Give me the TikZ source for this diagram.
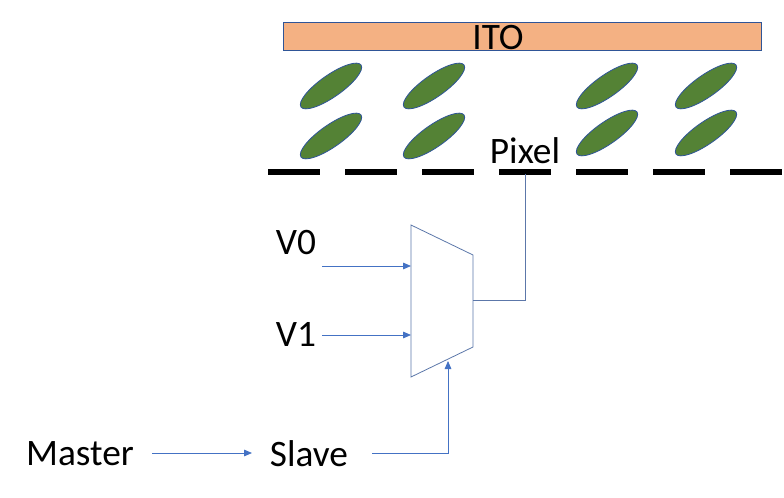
\documentclass[tikz,border=0pt]{standalone}
\usepackage{fontspec}
\setmainfont{Carlito}
\usetikzlibrary{shapes.geometric,arrows.meta}
\definecolor{ito}{HTML}{F4B183}
\definecolor{lc}{HTML}{548235}
\definecolor{bl}{HTML}{4472C4}
\definecolor{dbl}{HTML}{2F5597}
\begin{document}
\begin{tikzpicture}[x=0.75pt,y=-0.75pt,
  lbl/.style={font=\fontsize{28}{32}\selectfont},
  lcell/.style={ellipse,draw=dbl,fill=lc,minimum width=55pt,minimum height=16.5pt,inner sep=0pt,rotate=35,line width=0.6pt},
  arr/.style={draw=bl,line width=0.6pt,-{Triangle[length=6pt,width=5pt]}},
  wire/.style={draw=bl!60!gray,line width=0.6pt}]
\useasboundingbox (0,0) rectangle (784,498);
\node[draw=dbl,fill=ito,line width=0.6pt,minimum width=359pt,minimum height=21pt,inner sep=0pt] (ito) at (522.5,36) {};
\node[lbl] (itot) at (498,38) {ITO};
\foreach \x/\y/\n in {331/86/a,434/86/b,607/86/c,706/86/d,331/136/e,434/136/f,607/133/g,706/133/h}
  \node[lcell] (lc\n) at (\x,\y) {};
\draw[line width=4pt,dash pattern=on 39pt off 18.75pt] (268,172) -- (782,172);
\node[lbl] (pix) at (525,151) {Pixel};
\coordinate (pt) at (525,174);
\draw[wire] (411,225) -- (473,255) -- (473,347) -- (411,377) -- cycle;
\coordinate (mo) at (473,300);
\draw[wire] (pt) |- (mo);
\node[lbl] (v0) at (296,243) {V0};
\node[lbl] (v1) at (296,334) {V1};
\coordinate (i0) at (411,266);
\coordinate (i1) at (411,335);
\coordinate (s0) at (322,266);
\coordinate (s1) at (322,335);
\draw[arr] (s0) -- (i0);
\draw[arr] (s1) -- (i1);
\node[lbl] (m) at (80,454) {Master};
\node[lbl] (s) at (309,454) {Slave};
\coordinate (ms) at (448,361);
\coordinate (a1) at (152,453);
\coordinate (a2) at (252,453);
\coordinate (a3) at (372,453);
\draw[arr] (a1) -- (a2);
\draw[arr] (a3) -| (ms);
\end{tikzpicture}
\end{document}
